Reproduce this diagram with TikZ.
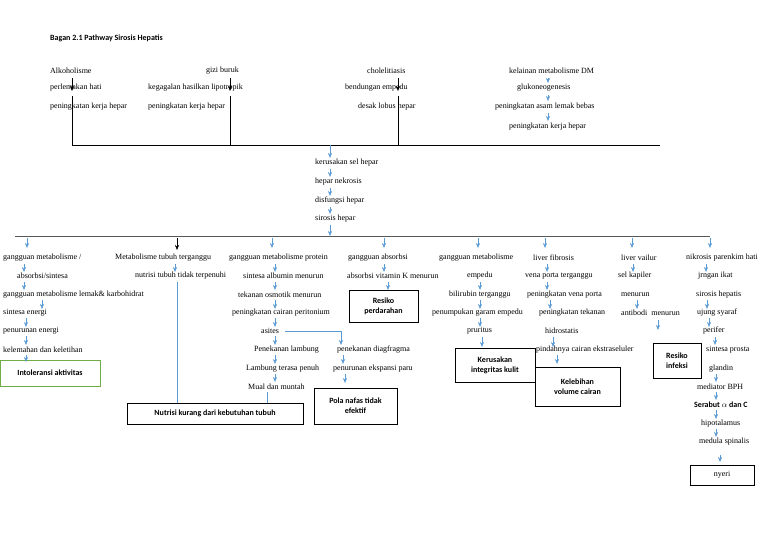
\documentclass[tikz,border=0pt]{standalone}
\usepackage{fontspec}
\setmainfont{Liberation Serif}
\newfontfamily\boxf{Carlito}
\usetikzlibrary{arrows.meta}
\definecolor{ab}{RGB}{91,155,213}
\definecolor{gb}{RGB}{112,173,71}
\begin{document}
\begin{tikzpicture}[x=1pt,y=-1pt,
 t/.style={anchor=west,inner sep=0pt,font=\fontsize{8}{9}\selectfont},
 bx/.style={draw,thick,align=center,inner sep=2pt,font=\boxf\bfseries\fontsize{8}{10}\selectfont},
 ba/.style={ab,-{Stealth[length=5pt,width=4pt]}},
 ka/.style={black,-{Stealth[length=5pt,width=4pt]}},
 ln/.style={ab,line width=0.6pt}]
\useasboundingbox (0,0) rectangle (768,543);
\newcommand\ar[3]{\draw[ba] (#1,#2) -- (#1,#3);}
\newcommand\kr[3]{\draw[ka] (#1,#2) -- (#1,#3);}
\node[t,font=\boxf\bfseries\fontsize{8}{9}\selectfont] (title) at (50,38) {Bagan 2.1 Pathway Sirosis Hepatis};
% top
\node[t] (a1) at (50,71) {Alkoholisme};
\node[t] (a2) at (50,88) {perlemakan hati};
\node[t] (a3) at (50,107) {peningkatan kerja hepar};
\node[t] (b1) at (206,71) {gizi buruk};
\node[t] (b2) at (148,88) {kegagalan hasilkan lipotropik};
\node[t] (b3) at (148,107) {peningkatan kerja hepar};
\node[t] (c1) at (367,71) {cholelitiasis};
\node[t] (c2) at (345,88) {bendungan empedu};
\node[t] (c3) at (358,107) {desak lobus hepar};
\node[t] (d1) at (509,71) {kelainan metabolisme DM};
\node[t] (d2) at (517,88) {glukoneogenesis};
\node[t] (d3) at (495,107) {peningkatan asam lemak bebas};
\node[t] (d4) at (509,127) {peningkatan kerja hepar};
\kr{72}{78}{91}\kr{230}{78}{91}\kr{398}{78}{91}
\draw (72,96) -- (72,145); \draw (230,96) -- (230,145); \draw (398,96) -- (398,145);
\ar{548}{78}{83}\ar{548}{95}{101}\ar{548}{113}{121}
\draw (72,145) -- (660,145);
\ar{330}{145}{158}
\node[t] (e1) at (315,163) {kerusakan sel hepar};
\node[t] (e2) at (315,182) {hepar nekrosis};
\node[t] (e3) at (315,201) {disfungsi hepar};
\node[t] (e4) at (315,219) {sirosis hepar};
\ar{330}{169}{177}\ar{330}{188}{196}\ar{330}{207}{214}
\draw[gray!70!black] (15,236) -- (710,236);
\ar{330}{225}{236}
\ar{27}{238}{248}\kr{177}{238}{250}\ar{272}{238}{248}\ar{384}{238}{248}
\ar{478}{238}{248}\ar{545}{238}{248}\ar{632}{238}{248}\ar{710}{238}{248}
% col1
\node[t] (f1) at (3,258) {gangguan metabolisme /};
\node[t] (f2) at (17,276) {absorbsi/sintesa};
\node[t] (f3) at (3,295) {gangguan metabolisme lemak\& karbohidrat};
\node[t] (f4) at (3,313) {sintesa energi};
\node[t] (f5) at (3,331) {penurunan energi};
\node[t] (f6) at (3,350) {kelemahan dan keletihan};
\node[bx,draw=gb,thin,minimum width=100pt,minimum height=26pt] (f7) at (50,373) {Intoleransi aktivitas};
\ar{24}{264}{272}\ar{24}{282}{290}\ar{42}{300}{309}\ar{26}{318}{327}\ar{26}{336}{345}\ar{26}{355}{362}
% col2
\node[t] (g1) at (115,258) {Metabolisme tubuh terganggu};
\node[t] (g2) at (135,276) {nutrisi tubuh tidak terpenuhi};
\ar{175}{264}{272}
\node[bx,thin,minimum width=176pt,minimum height=21pt] (g3) at (215,413.5) {Nutrisi kurang dari kebutuhan tubuh};
\draw[ln] (177,282) -- (177,403);
% col3
\node[t] (h1) at (229,258) {gangguan metabolisme protein};
\node[t] (h2) at (243,276) {sintesa albumin menurun};
\node[t] (h3) at (238,295) {tekanan osmotik menurun};
\node[t] (h4) at (232,313) {peningkatan cairan peritonium};
\node[t] (h5) at (261,331) {asites};
\node[t] (h6) at (254,350) {Penekanan lambung};
\node[t] (h7) at (246,369) {Lambung terasa penuh};
\node[t] (h8) at (248,387) {Mual dan muntah};
\ar{275}{264}{272}\ar{275}{282}{290}\ar{275}{300}{309}\ar{275}{318}{327}\ar{275}{336}{345}\ar{275}{355}{364}\ar{275}{374}{382}
\draw[ln] (285,331) -- (341,331); \ar{341}{331}{345}
\node[t] (i1) at (337,350) {penekanan diagfragma};
\node[t] (i2) at (333,369) {penurunan ekspansi paru};
\ar{343}{355}{364}\ar{345}{374}{383}
\node[bx,thin,minimum width=83pt,minimum height=36pt] (i3) at (355.5,406) {Pola nafas tidak\\efektif};
\draw[ln] (267,392) -- (267,403);
% col4
\node[t] (j1) at (348,258) {gangguan absorbsi};
\node[t] (j2) at (347,276) {absorbsi vitamin K menurun};
\ar{384}{264}{272}\ar{388}{282}{290}
\node[bx,thin,minimum width=69pt,minimum height=32pt] (j3) at (383.5,306) {Resiko\\perdarahan};
% col5
\node[t] (k1) at (439,258) {gangguan metabolisme};
\node[t] (k2) at (467,276) {empedu};
\node[t] (k3) at (449,295) {bilirubin terganggu};
\node[t] (k4) at (432,313) {penumpukan garam empedu};
\node[t] (k5) at (467,331) {pruritus};
\ar{480}{282}{290}\ar{480}{300}{309}\ar{480}{318}{327}\ar{482}{337}{347}
\node[bx,thin,minimum width=80pt,minimum height=34pt] (k6) at (495,365) {Kerusakan\\integritas kulit};
% col6
\node[t] (l1) at (533,258) {liver fibrosis};
\node[t] (l2) at (525,276) {vena porta terganggu};
\node[t] (l3) at (527,295) {peningkatan vena porta};
\node[t] (l4) at (539,313) {peningkatan tekanan};
\node[t] (l5) at (545,331) {hidrostatis};
\node[t] (l6) at (536,350) {pindahnya cairan ekstraseluler};
\ar{547}{264}{272}\ar{547}{282}{290}\ar{550}{300}{309}\ar{553}{337}{347}\ar{557}{355}{364}
\node[bx,thin,minimum width=85pt,minimum height=39pt] (l7) at (577.5,386.5) {Kelebihan\\volume cairan};
% col7
\node[t] (m1) at (621,258) {liver vailur};
\node[t] (m2) at (618,276) {sel kapiler};
\node[t] (m3) at (621,295) {menurun};
\node[t] (m4) at (621,313) {antibodi\ \ menurun};
\ar{633}{264}{272}\ar{637}{300}{309}\ar{658}{320}{330}
\node[bx,thin,minimum width=48pt,minimum height=35pt,align=left] (m5) at (677,360.5) {Resiko\\infeksi};
% col8
\node[t] (n1) at (686,258) {nikrosis parenkim hati};
\node[t] (n2) at (698,276) {jrngan ikat};
\node[t] (n3) at (696,295) {sirosis hepatis};
\node[t] (n4) at (697,313) {ujung syaraf};
\node[t] (n5) at (703,331) {perifer};
\node[t] (n6) at (706,350) {sintesa prosta};
\node[t] (n7) at (709,369) {glandin};
\node[t] (n8) at (697,387) {mediator BPH};
\node[t,font=\boxf\bfseries\fontsize{8}{9}\selectfont] (n9) at (694,405) {Serabut $\alpha$ dan C};
\node[t] (n10) at (701,424) {hipotalamus};
\node[t] (n11) at (699,442) {medula spinalis};
\ar{706}{264}{272}\ar{707}{300}{309}\ar{709}{318}{327}\ar{715}{337}{345}\ar{716}{374}{382}\ar{716}{392}{400}\ar{716}{410}{419}\ar{716}{429}{437}\ar{720}{455}{462}
\node[bx,thin,font=\fontsize{8}{9}\selectfont,minimum width=64pt,minimum height=20pt] (n12) at (722,475) {nyeri};
\end{tikzpicture}
\end{document}
